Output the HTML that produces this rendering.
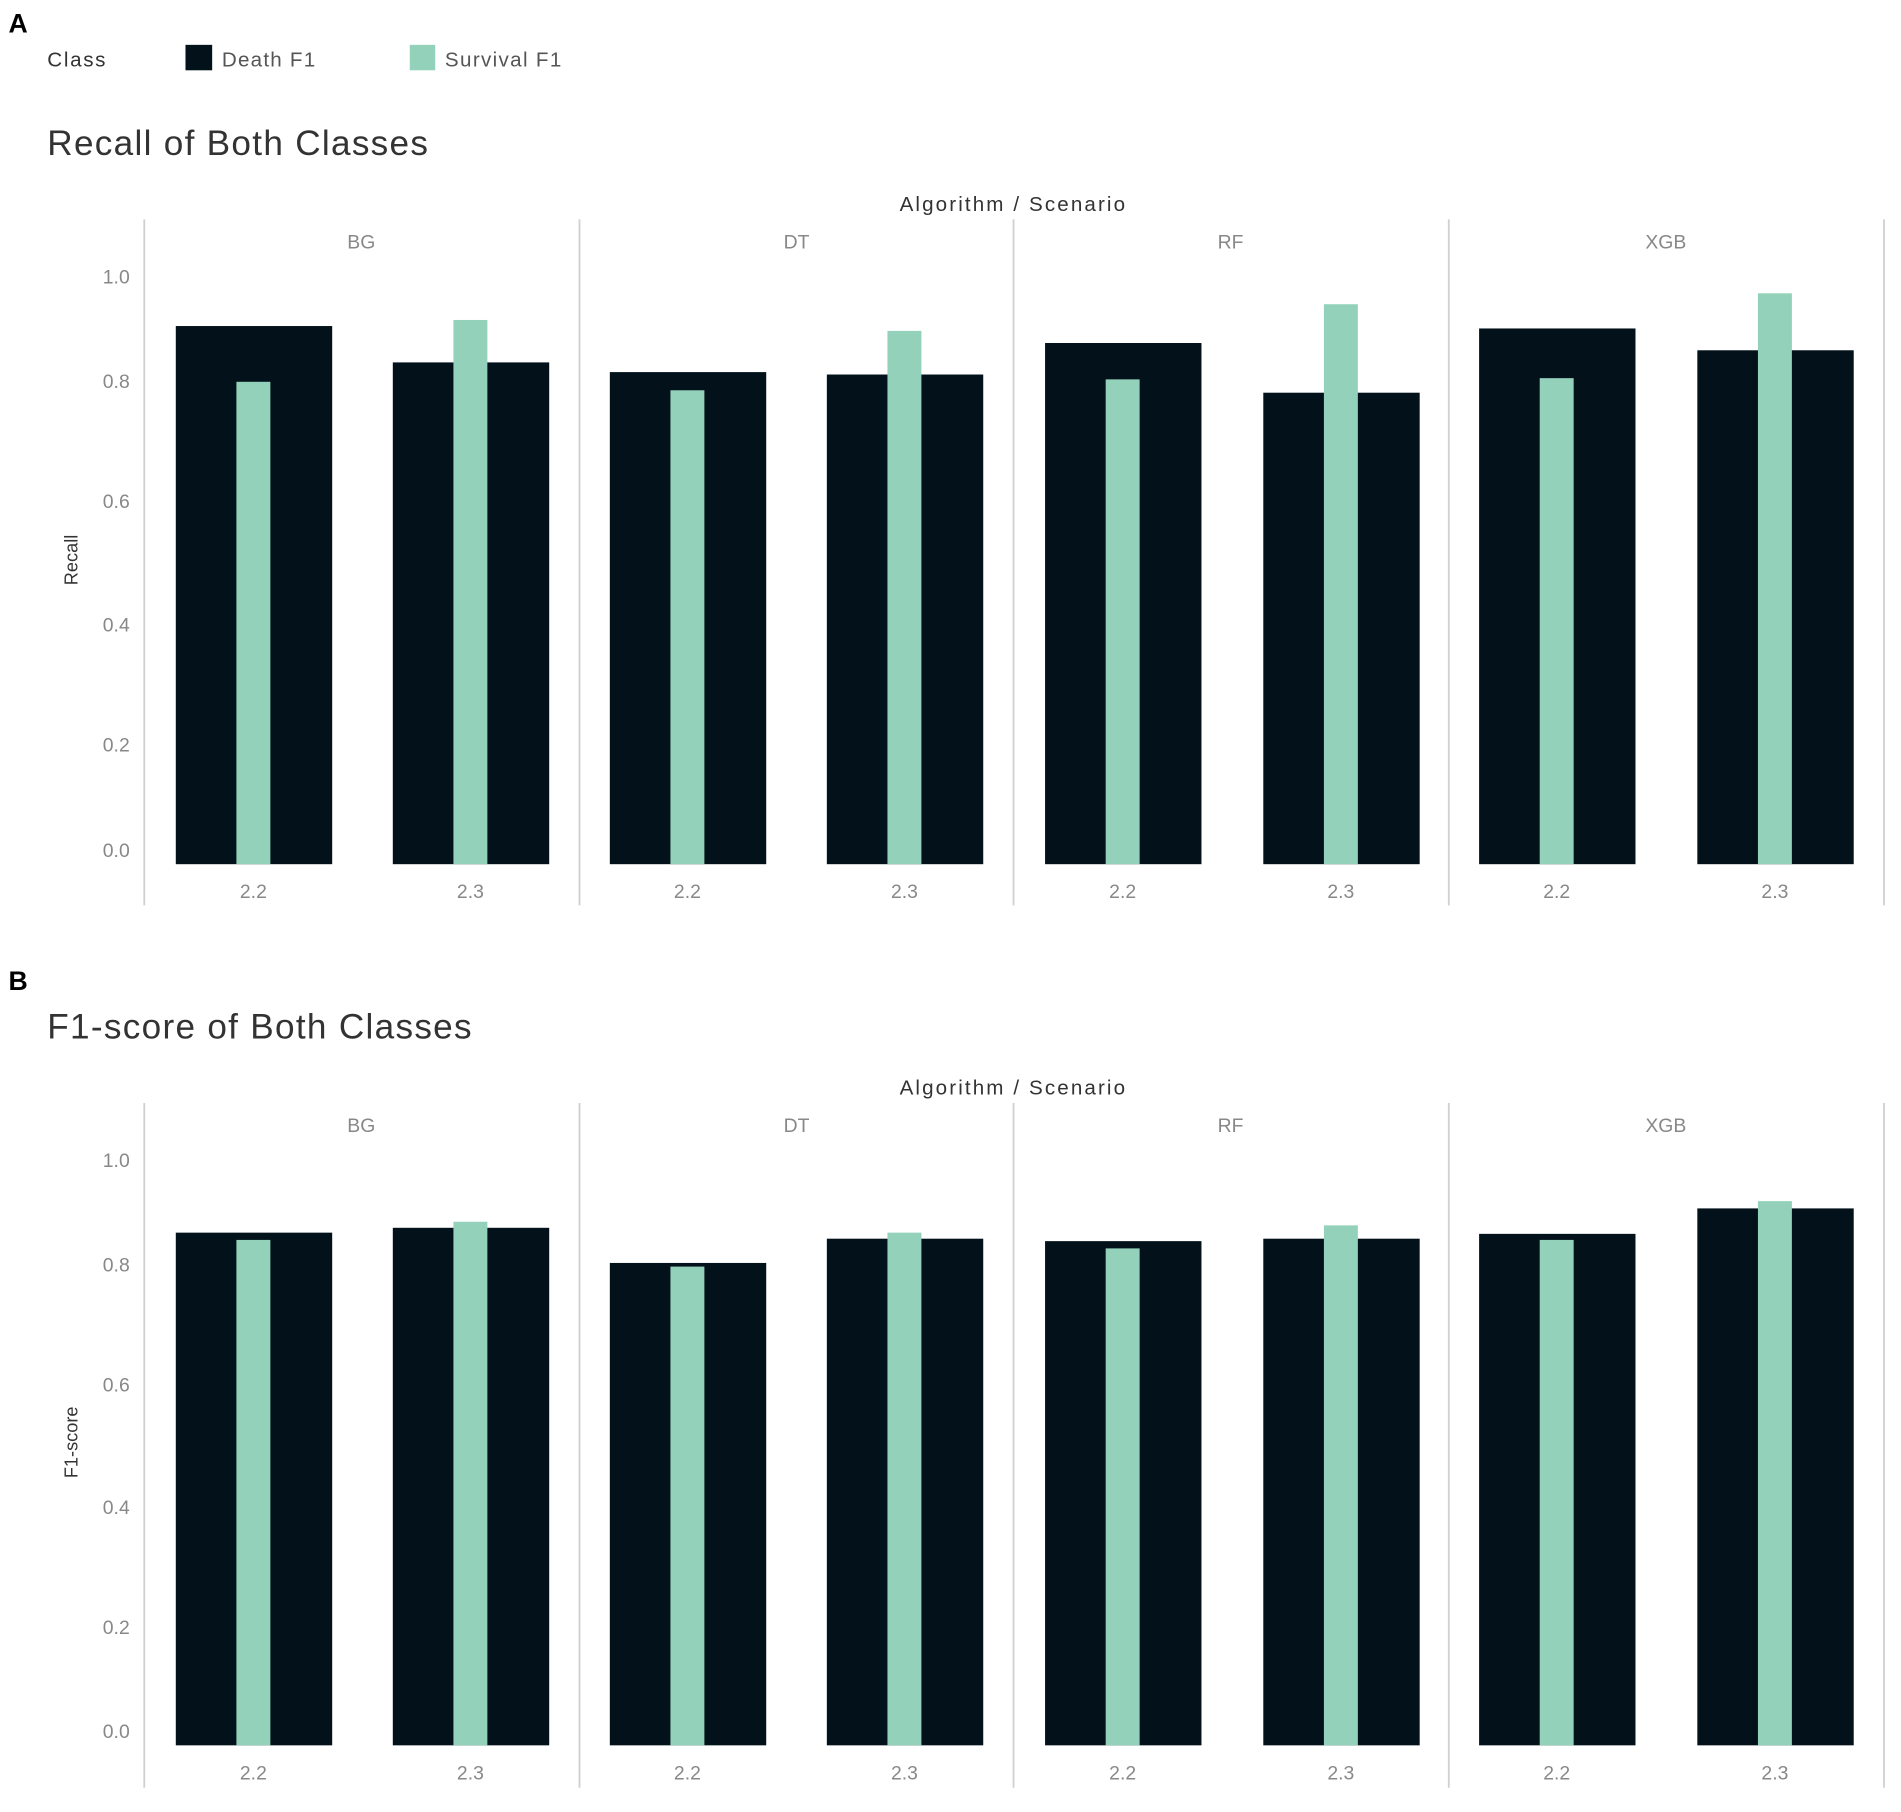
<!DOCTYPE html>
<html><head><meta charset="utf-8"><style>
html,body{margin:0;padding:0;background:#fff;}
svg{display:block;}
text{font-family:"Liberation Sans",sans-serif;}
</style></head><body>
<svg width="1901" height="1812" viewBox="0 0 1568 1495" preserveAspectRatio="none" xmlns="http://www.w3.org/2000/svg">
<rect width="1568" height="1495" fill="#fff"/>
<text x="7" y="27" font-size="22" font-weight="bold" fill="#000">A</text>
<text x="39" y="55" font-size="17" fill="#333" textLength="48">Class</text>
<rect x="153" y="37" width="22" height="21" fill="#03121a"/>
<text x="183" y="55" font-size="17" fill="#555" textLength="77">Death F1</text>
<rect x="338" y="37" width="21" height="21" fill="#93d1bb"/>
<text x="367" y="55" font-size="17" fill="#555" textLength="96">Survival F1</text>
<text x="39" y="128" font-size="29" fill="#333" textLength="314">Recall of Both Classes</text>

<text x="7" y="817" font-size="22" font-weight="bold" fill="#000">B</text>
<text x="39" y="857" font-size="29" fill="#333" textLength="350">F1-score of Both Classes</text>

<!-- Panel A -->
<g>
<text x="835" y="174" font-size="17" fill="#333" text-anchor="middle" textLength="186">Algorithm / Scenario</text>
<g stroke="#d0d0d0" stroke-width="1.5">
<line x1="119" y1="181" x2="119" y2="747"/><line x1="478" y1="181" x2="478" y2="747"/><line x1="836" y1="181" x2="836" y2="747"/><line x1="1195" y1="181" x2="1195" y2="747"/><line x1="1554" y1="181" x2="1554" y2="747"/>
</g>
<g font-size="16" fill="#888" text-anchor="middle">
<text x="298" y="205">BG</text><text x="657" y="205">DT</text><text x="1015" y="205">RF</text><text x="1374" y="205">XGB</text>
</g>
<g font-size="16" fill="#888" text-anchor="end">
<text x="107" y="707">0.0</text><text x="107" y="620">0.2</text><text x="107" y="521">0.4</text><text x="107" y="419">0.6</text><text x="107" y="320">0.8</text><text x="107" y="234">1.0</text>
</g>
<text transform="translate(64,462) rotate(-90)" font-size="15" fill="#333" text-anchor="middle">Recall</text>
<g fill="#03121a">
<rect x="145" y="269" width="129" height="444"/><rect x="324" y="299" width="129" height="414"/>
<rect x="503" y="307" width="129" height="406"/><rect x="682" y="309" width="129" height="404"/>
<rect x="862" y="283" width="129" height="430"/><rect x="1042" y="324" width="129" height="389"/>
<rect x="1220" y="271" width="129" height="442"/><rect x="1400" y="289" width="129" height="424"/>
</g>
<g fill="#93d1bb">
<rect x="195" y="315" width="28" height="398"/><rect x="374" y="264" width="28" height="449"/>
<rect x="553" y="322" width="28" height="391"/><rect x="732" y="273" width="28" height="440"/>
<rect x="912" y="313" width="28" height="400"/><rect x="1092" y="251" width="28" height="462"/>
<rect x="1270" y="312" width="28" height="401"/><rect x="1450" y="242" width="28" height="471"/>
</g>
<g font-size="16" fill="#888" text-anchor="middle">
<text x="209" y="741">2.2</text><text x="388" y="741">2.3</text><text x="567" y="741">2.2</text><text x="746" y="741">2.3</text>
<text x="926" y="741">2.2</text><text x="1106" y="741">2.3</text><text x="1284" y="741">2.2</text><text x="1464" y="741">2.3</text>
</g>
</g>

<!-- Panel B -->
<g>
<text x="835" y="903" font-size="17" fill="#333" text-anchor="middle" textLength="186">Algorithm / Scenario</text>
<g stroke="#d0d0d0" stroke-width="1.5">
<line x1="119" y1="910" x2="119" y2="1475"/><line x1="478" y1="910" x2="478" y2="1475"/><line x1="836" y1="910" x2="836" y2="1475"/><line x1="1195" y1="910" x2="1195" y2="1475"/><line x1="1554" y1="910" x2="1554" y2="1475"/>
</g>
<g font-size="16" fill="#888" text-anchor="middle">
<text x="298" y="934">BG</text><text x="657" y="934">DT</text><text x="1015" y="934">RF</text><text x="1374" y="934">XGB</text>
</g>
<g font-size="16" fill="#888" text-anchor="end">
<text x="107" y="1434">0.0</text><text x="107" y="1348">0.2</text><text x="107" y="1249">0.4</text><text x="107" y="1148">0.6</text><text x="107" y="1049">0.8</text><text x="107" y="963">1.0</text>
</g>
<text transform="translate(64,1190) rotate(-90)" font-size="15" fill="#333" text-anchor="middle">F1-score</text>
<g fill="#03121a">
<rect x="145" y="1017" width="129" height="423"/><rect x="324" y="1013" width="129" height="427"/>
<rect x="503" y="1042" width="129" height="398"/><rect x="682" y="1022" width="129" height="418"/>
<rect x="862" y="1024" width="129" height="416"/><rect x="1042" y="1022" width="129" height="418"/>
<rect x="1220" y="1018" width="129" height="422"/><rect x="1400" y="997" width="129" height="443"/>
</g>
<g fill="#93d1bb">
<rect x="195" y="1023" width="28" height="417"/><rect x="374" y="1008" width="28" height="432"/>
<rect x="553" y="1045" width="28" height="395"/><rect x="732" y="1017" width="28" height="423"/>
<rect x="912" y="1030" width="28" height="410"/><rect x="1092" y="1011" width="28" height="429"/>
<rect x="1270" y="1023" width="28" height="417"/><rect x="1450" y="991" width="28" height="449"/>
</g>
<g font-size="16" fill="#888" text-anchor="middle">
<text x="209" y="1468">2.2</text><text x="388" y="1468">2.3</text><text x="567" y="1468">2.2</text><text x="746" y="1468">2.3</text>
<text x="926" y="1468">2.2</text><text x="1106" y="1468">2.3</text><text x="1284" y="1468">2.2</text><text x="1464" y="1468">2.3</text>
</g>
</g>
</svg>
</body></html>
